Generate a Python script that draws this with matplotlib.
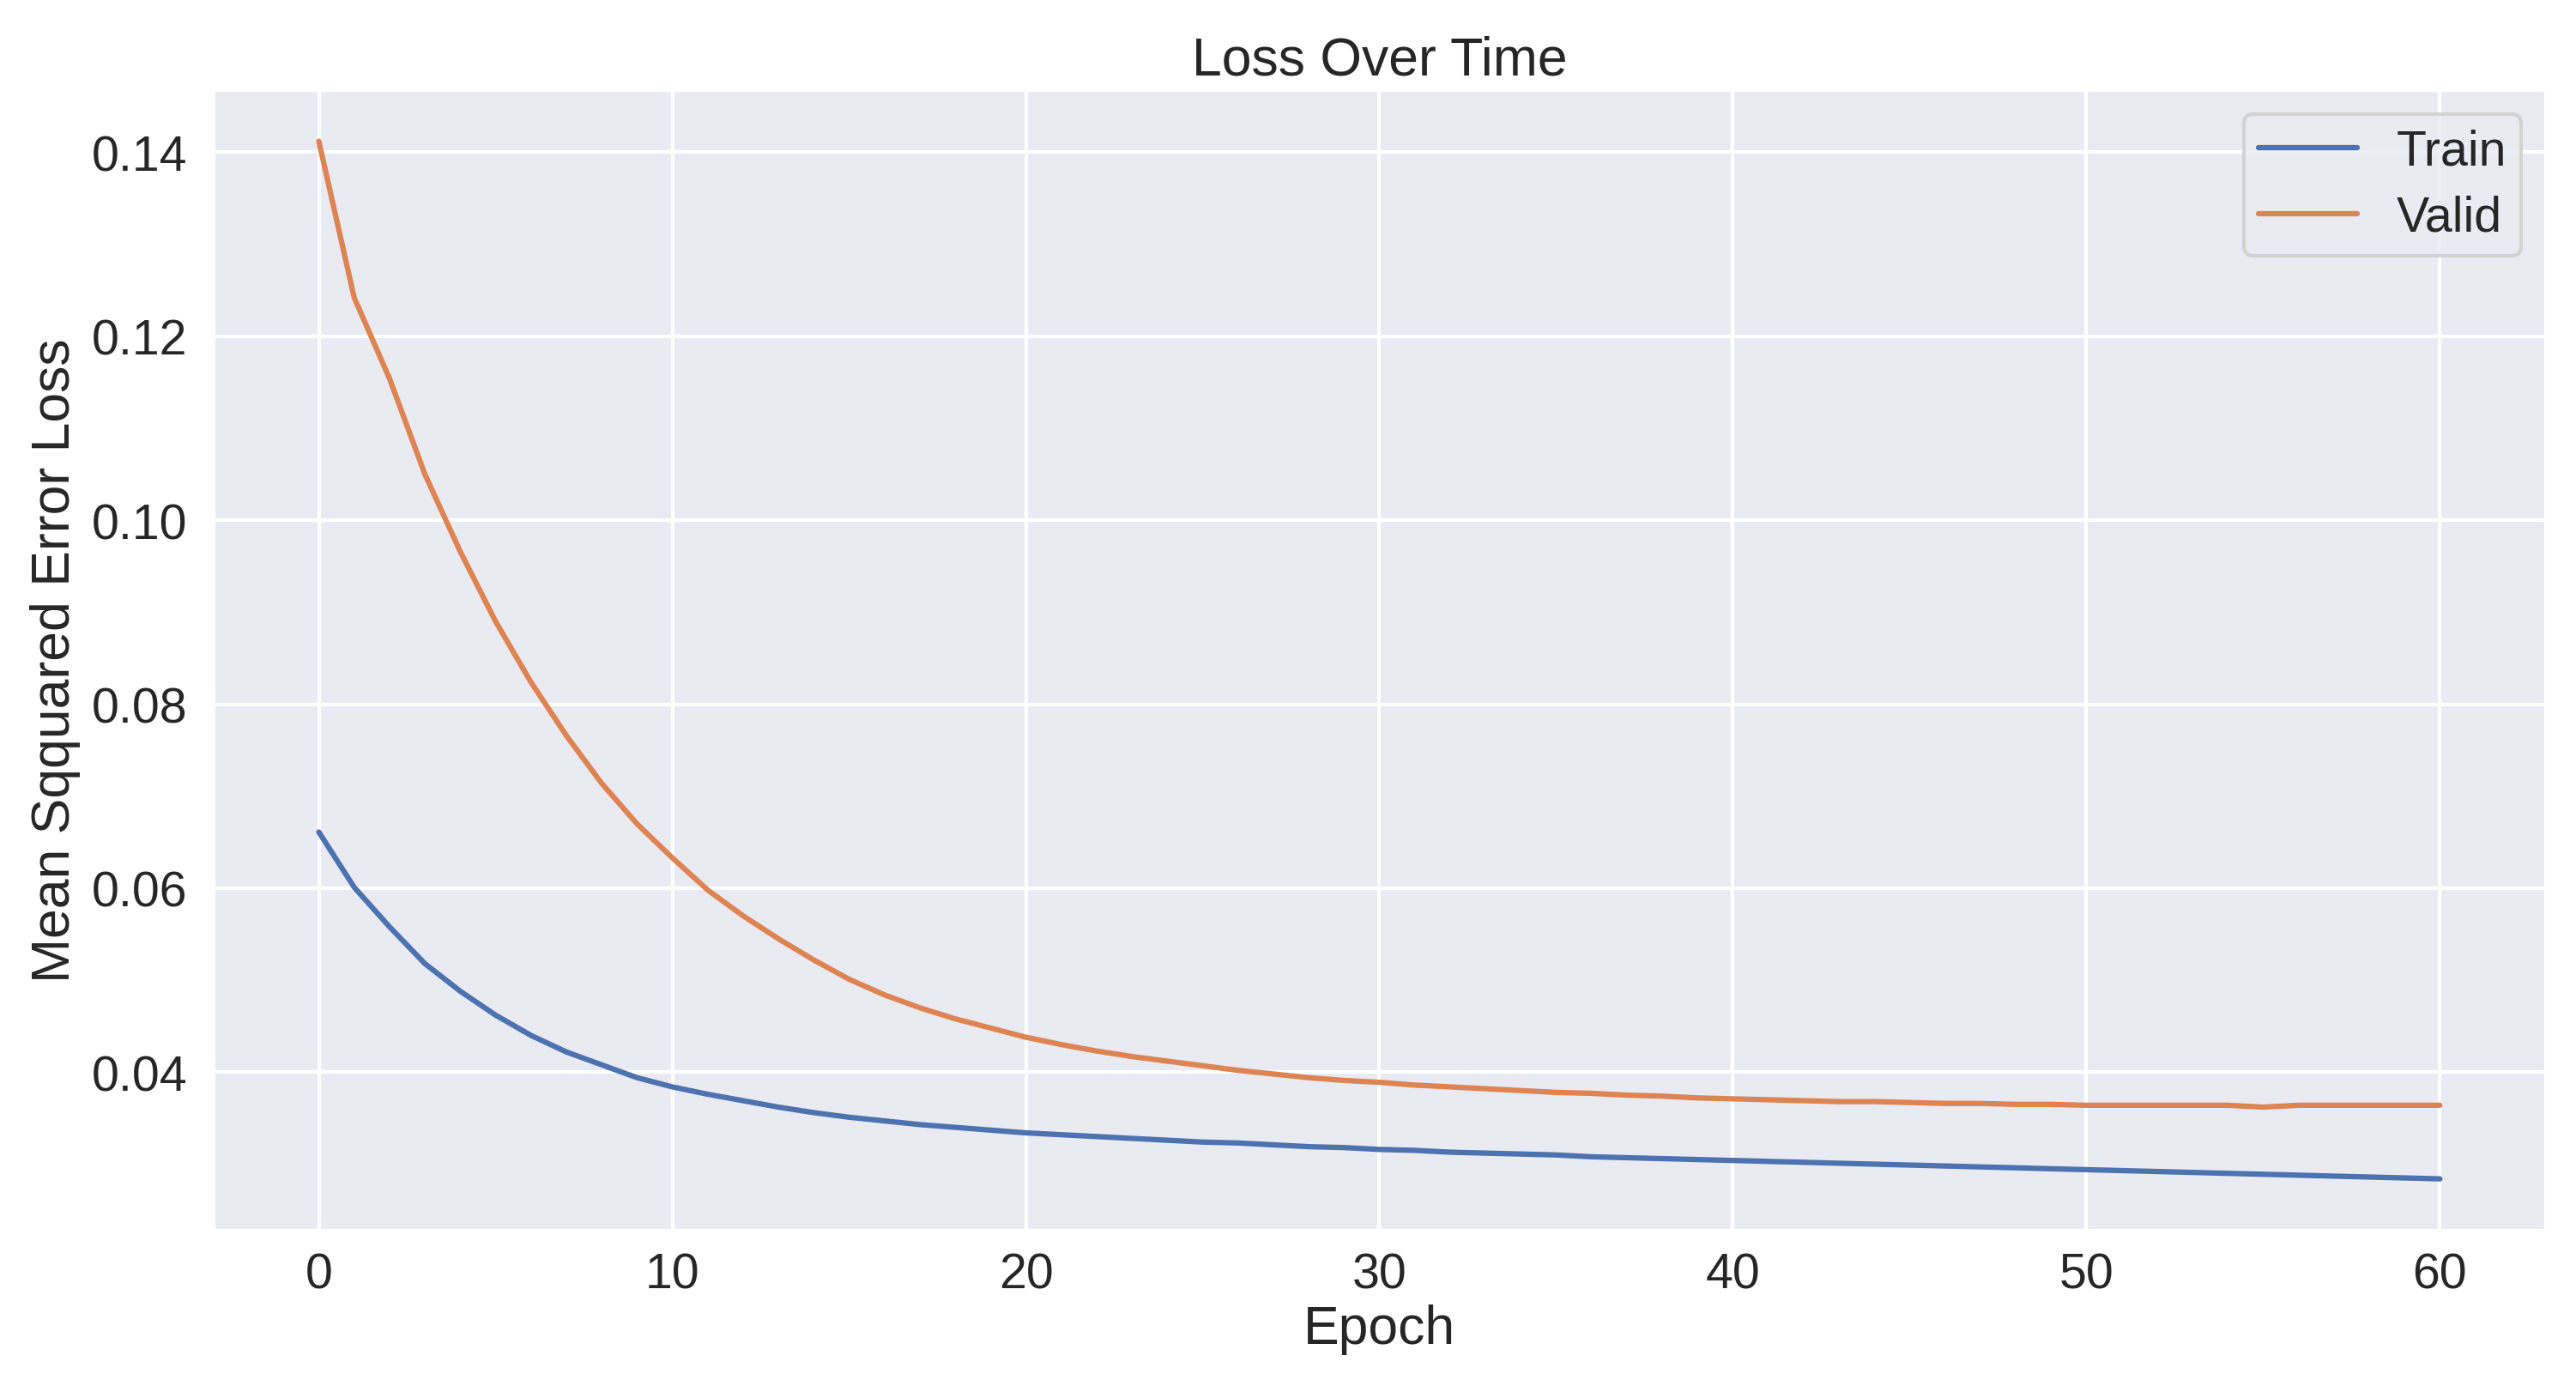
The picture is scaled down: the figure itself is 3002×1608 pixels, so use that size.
import matplotlib
matplotlib.use('Agg')
import matplotlib.pyplot as plt  # for plots
import seaborn as sns  # darkgrid look
import numpy as np

# loss per epoch
epochs = np.arange(61)
train_loss = [0.0661, 0.0601, 0.0558, 0.0518, 0.0488, 0.0462, 0.0440, 0.0422, 0.0408, 0.0394,
              0.0384, 0.0376, 0.0369, 0.0362, 0.0356, 0.0351, 0.0347, 0.0343, 0.0340, 0.0337,
              0.0334, 0.0332, 0.0330, 0.0328, 0.0326, 0.0324, 0.0323, 0.0321, 0.0319, 0.0318,
              0.0316, 0.0315, 0.0313, 0.0312, 0.0311, 0.0310, 0.0308, 0.0307, 0.0306, 0.0305,
              0.0304, 0.0303, 0.0302, 0.0301, 0.0300, 0.0299, 0.0298, 0.0297, 0.0296, 0.0295,
              0.0294, 0.0293, 0.0292, 0.0291, 0.0290, 0.0289, 0.0288, 0.0287, 0.0286, 0.0285,
              0.0284]
valid_loss = [0.1412, 0.1242, 0.1154, 0.1050, 0.0966, 0.0890, 0.0824, 0.0766, 0.0714, 0.0670,
              0.0633, 0.0598, 0.0570, 0.0545, 0.0522, 0.0501, 0.0484, 0.0470, 0.0458, 0.0448,
              0.0438, 0.0430, 0.0423, 0.0417, 0.0412, 0.0407, 0.0402, 0.0398, 0.0394, 0.0391,
              0.0389, 0.0386, 0.0384, 0.0382, 0.0380, 0.0378, 0.0377, 0.0375, 0.0374, 0.0372,
              0.0371, 0.0370, 0.0369, 0.0368, 0.0368, 0.0367, 0.0366, 0.0366, 0.0365, 0.0365,
              0.0364, 0.0364, 0.0364, 0.0364, 0.0364, 0.0362, 0.0364, 0.0364, 0.0364, 0.0364,
              0.0364]

# style
sns.set_theme(style='darkgrid')
plt.rcParams['font.family'] = ['Liberation Sans', 'DejaVu Sans']

fig, ax = plt.subplots(figsize=(10.007, 5.363), dpi=300)
fig.subplots_adjust(left=0.0826, right=0.9883, top=0.9347, bottom=0.1081)

ax.plot(epochs, train_loss, label='Train', lw=1.5)
ax.plot(epochs, valid_loss, label='Valid', lw=1.5)

ax.set_title('Loss Over Time', fontsize=15, pad=4.3)
ax.set_xlabel('Epoch', fontsize=15, labelpad=1.5)
ax.set_ylabel('Mean Sqquared Error Loss', fontsize=15, labelpad=3)
ax.tick_params(axis='x', labelsize=13.75, length=0, pad=6)
ax.tick_params(axis='y', labelsize=13.75, length=0, pad=7.2)
ax.legend(fontsize=13.75, labelspacing=0.4, borderpad=0.3)

fig.savefig('out.png', dpi=300)
